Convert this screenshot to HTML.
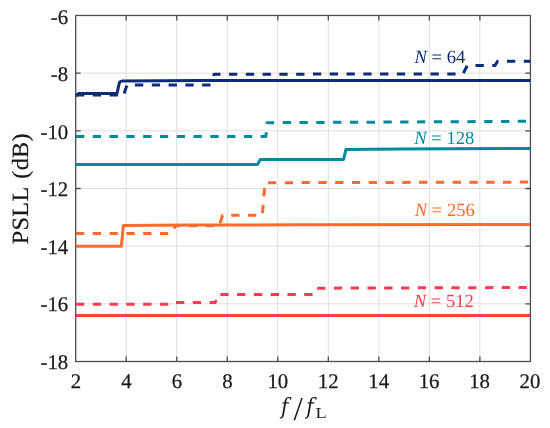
<!DOCTYPE html>
<html><head><meta charset="utf-8"><title>PSLL vs f/fL</title>
<style>
html,body{margin:0;padding:0;background:#fff;}
svg{display:block;}
text{font-family:"Liberation Serif","Times New Roman",serif;text-rendering:geometricPrecision;}
.t{font-size:20.8px;fill:#1a1a1a;stroke:#1a1a1a;stroke-width:0.25px;}
.yl{font-size:24.2px;fill:#1a1a1a;stroke:#1a1a1a;stroke-width:0.25px;letter-spacing:0.35px;word-spacing:2.2px;}
.xl{font-size:24px;fill:#1a1a1a;}
.nl{font-size:18.6px;}
.fi{font-family:"DejaVu Serif Condensed","DejaVu Serif",serif;font-style:italic;font-size:22.5px;}
</style></head>
<body>
<svg width="550" height="428" viewBox="0 0 550 428">
<rect width="550" height="428" fill="#fff"/>
<line x1="126.22" y1="15.46" x2="126.22" y2="361.5" stroke="#dfdfdf" stroke-width="1"/>
<line x1="176.74" y1="15.46" x2="176.74" y2="361.5" stroke="#dfdfdf" stroke-width="1"/>
<line x1="227.27" y1="15.46" x2="227.27" y2="361.5" stroke="#dfdfdf" stroke-width="1"/>
<line x1="277.79" y1="15.46" x2="277.79" y2="361.5" stroke="#dfdfdf" stroke-width="1"/>
<line x1="328.31" y1="15.46" x2="328.31" y2="361.5" stroke="#dfdfdf" stroke-width="1"/>
<line x1="378.83" y1="15.46" x2="378.83" y2="361.5" stroke="#dfdfdf" stroke-width="1"/>
<line x1="429.36" y1="15.46" x2="429.36" y2="361.5" stroke="#dfdfdf" stroke-width="1"/>
<line x1="479.88" y1="15.46" x2="479.88" y2="361.5" stroke="#dfdfdf" stroke-width="1"/>
<line x1="75.7" y1="73.13" x2="530.4" y2="73.13" stroke="#dfdfdf" stroke-width="1"/>
<line x1="75.7" y1="130.81" x2="530.4" y2="130.81" stroke="#dfdfdf" stroke-width="1"/>
<line x1="75.7" y1="188.48" x2="530.4" y2="188.48" stroke="#dfdfdf" stroke-width="1"/>
<line x1="75.7" y1="246.15" x2="530.4" y2="246.15" stroke="#dfdfdf" stroke-width="1"/>
<line x1="75.7" y1="303.83" x2="530.4" y2="303.83" stroke="#dfdfdf" stroke-width="1"/>
<rect x="75.7" y="15.46" width="454.7" height="346.04" fill="none" stroke="#4d4d4d" stroke-width="1.3"/>
<path d="M126.22,361.5v-5M126.22,15.46v5M176.74,361.5v-5M176.74,15.46v5M227.27,361.5v-5M227.27,15.46v5M277.79,361.5v-5M277.79,15.46v5M328.31,361.5v-5M328.31,15.46v5M378.83,361.5v-5M378.83,15.46v5M429.36,361.5v-5M429.36,15.46v5M479.88,361.5v-5M479.88,15.46v5M75.7,73.13h5M530.4,73.13h-5M75.7,130.81h5M530.4,130.81h-5M75.7,188.48h5M530.4,188.48h-5M75.7,246.15h5M530.4,246.15h-5M75.7,303.83h5M530.4,303.83h-5" stroke="#4d4d4d" stroke-width="1.3" fill="none"/>
<path d="M76.00,94.90L84.30,94.90M92.79,94.90L101.09,94.90M109.58,94.90L117.88,94.90M124.12,93.40L126.84,85.56M135.00,85.10L143.30,85.10M151.79,85.10L160.09,85.10M168.58,85.10L176.88,85.10M185.37,85.10L193.67,85.10M202.16,85.10L210.46,85.10M213.72,75.97L214.00,74.20L220.51,74.19M229.00,74.19L237.30,74.18M245.79,74.17L254.09,74.17M262.58,74.16L270.88,74.15M279.37,74.15L287.67,74.14M296.16,74.13L304.46,74.13M312.95,74.12L321.25,74.11M329.74,74.11L338.04,74.10M346.53,74.09L354.83,74.09M363.32,74.08L371.62,74.07M380.11,74.07L388.41,74.06M396.90,74.05L405.20,74.05M413.69,74.04L421.99,74.03M430.48,74.03L438.78,74.02M447.27,74.01L455.57,74.01M463.42,73.17L467.17,65.76M475.50,65.50L483.80,65.50M492.29,65.50L495.00,65.50L497.60,61.20L498.51,61.20M507.00,61.20L515.30,61.20M523.79,61.20L530.00,61.20" fill="none" stroke="#0c2c77" stroke-width="3.0" stroke-linejoin="round"/>
<path d="M76,95.8 L78.5,93.5 H117 L119.4,82.6 Q120.2,81 122.2,80.9 L200,80.5 H530" fill="none" stroke="#0c2c77" stroke-width="3.0" stroke-linejoin="round"/>
<path d="M76.00,136.50L84.30,136.50M92.79,136.50L101.09,136.50M109.58,136.50L117.88,136.50M126.37,136.50L134.67,136.50M143.16,136.50L151.46,136.50M159.95,136.50L168.25,136.50M176.74,136.50L185.04,136.50M193.53,136.50L201.83,136.50M210.32,136.50L218.62,136.50M227.11,136.50L235.41,136.50M243.90,136.50L252.20,136.50M260.69,136.50L265.90,136.50L266.24,132.25M266.91,123.79L267.00,122.70L274.21,122.66M282.70,122.62L291.00,122.57M299.49,122.53L307.79,122.48M316.28,122.44L324.58,122.39M333.07,122.35L341.37,122.30M349.86,122.26L358.16,122.21M366.65,122.17L374.95,122.13M383.44,122.08L391.74,122.04M400.23,121.99L408.53,121.95M417.02,121.90L425.32,121.86M433.81,121.81L442.11,121.77M450.60,121.72L458.90,121.68M467.39,121.63L475.69,121.59M484.18,121.54L492.48,121.50M500.97,121.45L509.27,121.41M517.76,121.37L526.06,121.32" fill="none" stroke="#008a9b" stroke-width="3.0" stroke-linejoin="round"/>
<path d="M76,164.6 H257.5 L260.2,159.6 H343.5 L345.9,149.6 L400,148.9 L530,148.5" fill="none" stroke="#008a9b" stroke-width="3.0" stroke-linejoin="round"/>
<path d="M76.00,233.60L84.30,233.60M92.79,233.60L101.09,233.60M109.58,233.60L117.88,233.60M126.37,233.60L134.67,233.60M143.16,233.60L151.46,233.60M159.95,233.60L168.25,233.60M173.84,228.61L175.50,225.70L180.45,225.70M188.94,225.70L197.24,225.70M205.73,225.70L214.03,225.70M220.12,223.11L222.60,215.30L222.71,215.30M231.20,215.30L239.50,215.30M247.99,215.30L256.29,215.30M262.48,213.18L263.16,204.90M263.86,196.44L264.55,188.17M268.00,182.69L276.30,182.67M284.79,182.66L293.09,182.64M301.58,182.62L309.88,182.60M318.37,182.58L326.67,182.56M335.16,182.54L343.46,182.52M351.95,182.50L360.25,182.48M368.74,182.47L377.04,182.45M385.53,182.43L393.83,182.41M402.32,182.39L410.62,182.37M419.11,182.35L427.41,182.33M435.90,182.31L444.20,182.29M452.69,182.28L460.99,182.26M469.48,182.24L477.78,182.22M486.27,182.20L494.57,182.18M503.06,182.16L511.36,182.14M519.85,182.12L528.15,182.10" fill="none" stroke="#ff6a2f" stroke-width="3.0" stroke-linejoin="round"/>
<path d="M76,246.3 H121.3 L123.4,225.5 L190,225.0 L300,224.8 L530,224.5" fill="none" stroke="#ff6a2f" stroke-width="3.0" stroke-linejoin="round"/>
<path d="M76.00,304.20L84.30,304.20M92.79,304.20L101.09,304.20M109.58,304.20L117.88,304.20M126.37,304.20L134.67,304.20M143.16,304.20L151.46,304.20M159.95,304.20L168.25,304.20M176.00,302.60L184.30,302.60M192.79,302.60L201.09,302.60M209.58,302.60L215.20,302.60L216.13,300.09M220.30,294.50L228.60,294.50M237.09,294.50L245.39,294.50M253.88,294.50L262.18,294.50M270.67,294.50L278.97,294.50M287.46,294.50L295.76,294.50M304.25,294.50L312.55,294.50M317.10,288.19L325.40,288.17M333.89,288.14L342.19,288.11M350.68,288.09L358.98,288.06M367.47,288.03L375.77,288.00M384.26,287.98L392.56,287.95M401.05,287.92L409.35,287.89M417.84,287.87L426.14,287.84M434.63,287.81L442.93,287.78M451.42,287.76L459.72,287.73M468.21,287.70L476.51,287.67M485.00,287.65L493.30,287.62M501.79,287.59L510.09,287.56M518.58,287.54L526.88,287.51" fill="none" stroke="#ff3b50" stroke-width="3.0" stroke-linejoin="round"/>
<path d="M76,315.4 H530" fill="none" stroke="#ff3b50" stroke-width="3.0" stroke-linejoin="round"/>
<text x="76.00" y="388" text-anchor="middle" class="t">2</text>
<text x="126.44" y="388" text-anchor="middle" class="t">4</text>
<text x="176.89" y="388" text-anchor="middle" class="t">6</text>
<text x="227.33" y="388" text-anchor="middle" class="t">8</text>
<text x="277.78" y="388" text-anchor="middle" class="t">10</text>
<text x="328.22" y="388" text-anchor="middle" class="t">12</text>
<text x="378.67" y="388" text-anchor="middle" class="t">14</text>
<text x="429.11" y="388" text-anchor="middle" class="t">16</text>
<text x="479.56" y="388" text-anchor="middle" class="t">18</text>
<text x="530.00" y="388" text-anchor="middle" class="t">20</text>
<text x="68.2" y="23.70" text-anchor="end" class="t">-6</text>
<text x="68.2" y="81.20" text-anchor="end" class="t">-8</text>
<text x="68.2" y="138.70" text-anchor="end" class="t">-10</text>
<text x="68.2" y="196.20" text-anchor="end" class="t">-12</text>
<text x="68.2" y="253.70" text-anchor="end" class="t">-14</text>
<text x="68.2" y="311.20" text-anchor="end" class="t">-16</text>
<text x="68.2" y="368.70" text-anchor="end" class="t">-18</text>
<text transform="translate(27.6,244.3) rotate(-90) scale(1,0.96)" class="yl">PSLL (dB)</text>
<text y="414" class="xl"><tspan x="281" class="fi">f</tspan><tspan x="293.4" y="420.4" font-size="33.5">/</tspan><tspan x="306.2" y="414" class="fi">f</tspan></text>
<text transform="translate(315.4,418) scale(1.2,1)" class="xl" style="font-size:15.2px">L</text>
<text x="414.5" y="63.1" class="nl" fill="#0c2c77"><tspan font-style="italic">N</tspan> = 64</text>
<text x="414.3" y="143.8" class="nl" fill="#008a9b"><tspan font-style="italic">N</tspan> = 128</text>
<text x="414.7" y="216.4" class="nl" fill="#ff6a2f"><tspan font-style="italic">N</tspan> = 256</text>
<text x="413.7" y="306.8" class="nl" fill="#ff3b50"><tspan font-style="italic">N</tspan> = 512</text>
</svg>
</body></html>
